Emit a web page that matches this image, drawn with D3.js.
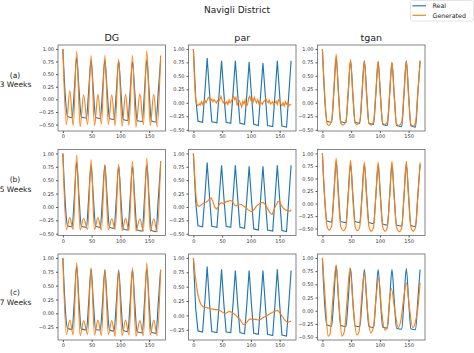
<!DOCTYPE html>
<html>
<head>
<meta charset="utf-8">
<script src="https://cdn.jsdelivr.net/npm/d3@7"></script>
<style>
  body { margin: 0; background: #fff; }
  svg { font-family: "DejaVu Sans", sans-serif; }
  .tick text { fill: #333; }
  .tick line { stroke: #555; }
</style>
</head>
<body>
<div id="chart"></div>
<script>
// ---- data ----
const title = 'Navigli District';
const methods = ['DG', 'par', 'tgan'];
const rowTags = ['(a)', '(b)', '(c)'];
const rowWindows = ['3 Weeks', '5 Weeks', '7 Weeks'];
const seriesNames = ['Real', 'Generated'];
const xTicks = [0, 50, 100, 150];
const xMax = 170;

// real series, one per window length (shared by the three methods)
const real3 = [[0,1.0],[4,0.1],[8,-0.34],[16,-0.36],[20,0.2],[24,0.83],
  [28,0.2],[32,-0.35],[41,-0.37],[45,0.2],[49,0.78],
  [53,0.18],[57,-0.36],[65,-0.38],[69,0.18],[73,0.78],
  [77,0.17],[81,-0.38],[89,-0.40],[93,0.16],[97,0.76],
  [101,0.15],[105,-0.40],[113,-0.42],[117,0.15],[121,0.74],
  [125,0.15],[129,-0.42],[138,-0.44],[142,0.16],[146,0.78],
  [150,0.16],[154,-0.43],[162,-0.45],[166,0.16],[170,0.78]];
const real5 = [[0,1.0],[4,0.1],[8,-0.35],[16,-0.37],[20,0.2],[24,0.83],
  [28,0.2],[32,-0.36],[41,-0.38],[45,0.2],[49,0.78],
  [53,0.18],[57,-0.36],[65,-0.38],[69,0.18],[73,0.78],
  [77,0.17],[81,-0.38],[89,-0.40],[93,0.16],[97,0.76],
  [101,0.15],[105,-0.41],[113,-0.43],[117,0.15],[121,0.76],
  [125,0.15],[129,-0.43],[138,-0.45],[142,0.16],[146,0.78],
  [150,0.16],[154,-0.44],[162,-0.46],[166,0.16],[170,0.78]];
const real7 = [[0,1.0],[4,0.12],[8,-0.27],[16,-0.29],[20,0.25],[24,0.85],
  [28,0.22],[32,-0.28],[41,-0.30],[45,0.22],[49,0.80],
  [53,0.2],[57,-0.29],[65,-0.30],[69,0.2],[73,0.78],
  [77,0.2],[81,-0.30],[89,-0.32],[93,0.2],[97,0.78],
  [101,0.2],[105,-0.31],[113,-0.33],[117,0.2],[121,0.78],
  [125,0.2],[129,-0.33],[138,-0.35],[142,0.2],[146,0.80],
  [150,0.2],[154,-0.34],[162,-0.36],[166,0.2],[170,0.78]];

// generated series
const genDG3 = [[0,1.0],[6,-0.50],[12,0.17],[18,-0.52],[24,0.95],
  [30,-0.54],[36,0.09],[43,-0.50],[49,0.87],
  [55,-0.52],[61,0.10],[67,-0.49],[73,0.87],
  [79,-0.50],[85,0.09],[91,-0.52],[97,0.80],
  [103,-0.53],[109,0.10],[115,-0.51],[121,0.87],
  [127,-0.55],[134,0.11],[140,-0.50],[146,0.96],
  [152,-0.52],[158,0.10],[164,-0.54],[170,0.87]];
const genPar3 = [[0,1.0],[2,0.4],[4,0.05],[6,-0.03],[8,-0.05],[10,-0.02],[12,-0.04],[14,0.02],
  [16,-0.03],[18,0.03],[20,0.05],[22,0.0],[24,0.05],[26,0.1],[28,0.08],[30,0.04],[32,0.07],
  [34,0.02],[36,0.06],[38,0.03],[40,0.0],[42,0.04],[44,0.02],[46,0.06],[48,0.12],[50,0.05],
  [52,0.0],[54,0.03],[56,-0.02],[58,0.02],[60,-0.03],[62,0.05],[64,0.0],[66,0.03],[68,0.08],
  [70,0.12],[72,0.06],[74,0.1],[76,-0.05],[78,0.02],[80,0.04],[82,-0.02],[84,-0.08],[86,0.03],
  [88,-0.02],[90,0.05],[92,-0.05],[94,-0.04],[96,0.08],[98,0.12],[100,0.05],[102,0.08],
  [104,0.02],[106,0.1],[108,0.04],[110,0.0],[112,0.06],[114,-0.02],[116,0.03],[118,0.0],
  [120,-0.03],[122,0.02],[124,0.04],[126,0.08],[128,0.03],[130,0.0],[132,0.05],[134,-0.02],
  [136,0.0],[138,0.02],[140,-0.04],[142,0.0],[144,0.03],[146,-0.03],[148,0.06],[150,0.04],
  [152,-0.02],[154,-0.05],[156,0.0],[158,-0.06],[160,0.02],[162,-0.03],[164,0.0],[166,-0.06],
  [168,-0.03],[170,-0.04]];
const genTgan3 = [[0,1.0],[4,0.15],[8,-0.38],[11,-0.42],[16,-0.33],[20,0.25],[24,0.90],
  [28,0.15],[32,-0.38],[36,-0.41],[41,-0.33],[45,0.22],[49,0.80],
  [53,0.12],[57,-0.38],[61,-0.40],[65,-0.34],[69,0.2],[73,0.78],
  [77,0.12],[81,-0.38],[85,-0.41],[89,-0.34],[93,0.2],[97,0.77],
  [101,0.1],[105,-0.38],[109,-0.40],[113,-0.35],[117,0.18],[121,0.75],
  [125,0.1],[129,-0.39],[133,-0.42],[138,-0.36],[142,0.2],[146,0.77],
  [150,0.1],[154,-0.40],[158,-0.43],[162,-0.37],[166,0.2],[170,0.77]];

const genDG5 = [[0,1.0],[6,-0.42],[12,-0.2],[18,-0.42],[24,0.97],
  [30,-0.43],[36,-0.21],[43,-0.42],[49,0.88],
  [55,-0.42],[61,-0.2],[67,-0.43],[73,0.78],
  [79,-0.43],[85,-0.22],[91,-0.42],[97,0.80],
  [103,-0.44],[109,-0.21],[115,-0.44],[121,0.85],
  [127,-0.45],[134,-0.22],[140,-0.45],[146,0.91],
  [152,-0.45],[158,-0.22],[164,-0.46],[170,0.86]];
const genPar5 = [[0,1.0],[3,0.45],[5,0.15],[7,0.03],[10,0.01],[13,0.03],[16,0.06],[20,0.08],
  [24,0.1],[28,0.15],[31,0.17],[34,0.1],[37,0.0],[40,-0.04],[43,0.0],[46,0.06],[49,0.08],
  [53,0.06],[57,0.1],[61,0.11],[65,0.12],[68,0.1],[72,0.03],[75,0.02],[79,0.05],[83,0.05],
  [87,0.02],[91,-0.01],[95,-0.05],[99,-0.08],[102,-0.09],[106,-0.04],[110,0.02],[114,0.05],
  [118,0.08],[122,0.08],[126,0.03],[130,-0.05],[134,-0.12],[137,-0.14],[140,-0.06],[143,0.02],
  [147,0.1],[150,0.1],[153,0.03],[157,-0.03],[161,-0.06],[165,-0.07],[168,-0.08],[170,-0.05]];
const genTgan5 = [[0,1.0],[4,0.1],[8,-0.45],[12,-0.53],[16,-0.45],[20,0.15],[24,0.90],
  [28,0.1],[32,-0.46],[37,-0.54],[41,-0.46],[45,0.15],[49,0.86],
  [53,0.1],[57,-0.46],[61,-0.54],[65,-0.46],[69,0.14],[73,0.82],
  [77,0.1],[81,-0.46],[85,-0.55],[89,-0.47],[93,0.14],[97,0.82],
  [101,0.1],[105,-0.47],[109,-0.55],[113,-0.47],[117,0.14],[121,0.84],
  [125,0.1],[129,-0.47],[134,-0.56],[138,-0.48],[142,0.14],[146,0.84],
  [150,0.1],[154,-0.47],[158,-0.55],[162,-0.47],[166,0.14],[170,0.82]];

const genDG7 = [[0,1.0],[6,-0.38],[12,-0.12],[18,-0.39],[24,0.91],
  [30,-0.40],[36,-0.13],[43,-0.38],[49,0.82],
  [55,-0.39],[61,-0.12],[67,-0.40],[73,0.79],
  [79,-0.38],[85,-0.13],[91,-0.41],[97,0.76],
  [103,-0.40],[109,-0.12],[115,-0.39],[121,0.82],
  [127,-0.41],[134,-0.13],[140,-0.40],[146,0.91],
  [152,-0.39],[158,-0.12],[164,-0.40],[170,0.79]];
const genPar7 = [[0,1.0],[3,0.7],[5,0.55],[8,0.35],[11,0.24],[14,0.18],[17,0.15],[21,0.14],
  [25,0.13],[29,0.12],[33,0.11],[37,0.10],[41,0.1],[46,0.09],[50,0.06],[55,0.03],[60,0.06],
  [64,0.07],[68,0.04],[72,0.02],[76,-0.02],[81,-0.07],[84,-0.12],[87,-0.16],[90,-0.15],
  [93,-0.12],[96,-0.08],[99,-0.06],[103,-0.07],[108,-0.07],[113,-0.08],[117,-0.07],
  [121,-0.04],[125,-0.02],[129,0.0],[133,0.03],[137,0.05],[141,0.07],[146,0.09],[149,0.06],
  [152,0.02],[155,-0.02],[158,-0.07],[161,-0.1],[164,-0.12],[167,-0.11],[170,-0.10]];
const genTgan7 = [[0,1.0],[5,0.2],[10,-0.48],[13,-0.45],[18,0.2],[24,0.87],
  [29,0.1],[34,-0.48],[38,-0.4],[43,0.2],[48,0.81],
  [54,0.0],[60,-0.46],[64,-0.38],[68,0.2],[73,0.72],
  [79,-0.05],[84,-0.42],[89,-0.3],[93,0.2],[98,0.62],
  [103,0.0],[109,-0.37],[113,-0.3],[116,0.1],[120,0.42],
  [126,0.0],[132,-0.32],[137,-0.15],[141,0.2],[146,0.53],
  [151,0.1],[157,-0.32],[162,-0.2],[166,0.05],[170,0.53]];

const realRows = [real3, real5, real7];
const genRows = [
  [genDG3, genPar3, genTgan3],
  [genDG5, genPar5, genTgan5],
  [genDG7, genPar7, genTgan7]
];

// ---- layout ----
const W = 474, H = 353;
const colLeft = [58, 188.5, 317.5];
const rowTop = [45, 149.5, 254];
const plotW = 107.5, plotH = 86;
const tagY = [75, 179.5, 292.5];
const colors = { Real: '#1f77b4', Generated: '#ff7f0e' };

const svg = d3.select('#chart').append('svg')
  .attr('width', W).attr('height', H);

svg.append('text')
  .attr('x', 237).attr('y', 13)
  .attr('text-anchor', 'middle')
  .attr('font-size', 9).attr('fill', '#222')
  .text(title);

const x = d3.scaleLinear()
  .domain([-0.05 * xMax, 1.05 * xMax])
  .range([0, plotW]);

const fmt = d3.format('.2f');

rowTop.forEach((top, r) => {
  // row labels
  const lab = svg.append('g').attr('font-size', 7.5).attr('fill', '#222').attr('text-anchor', 'middle');
  lab.append('text').attr('x', 15).attr('y', tagY[r]).attr('dy', '0.35em').text(rowTags[r]);
  lab.append('text').attr('x', 15.5).attr('y', tagY[r] + 9.5).attr('dy', '0.35em').text(rowWindows[r]);

  methods.forEach((m, c) => {
    const real = realRows[r];
    const gen = genRows[r][c];
    const vals = real.concat(gen).map(d => d[1]);
    const [lo, hi] = d3.extent(vals);
    const pad = (hi - lo) * 0.05;
    const y = d3.scaleLinear().domain([lo - pad, hi + pad]).range([plotH, 0]);
    const yTicks = d3.range(Math.ceil((lo - pad) / 0.25) * 0.25, hi + pad + 1e-9, 0.25);

    const g = svg.append('g')
      .attr('transform', `translate(${colLeft[c]},${top})`);

    if (r === 0) {
      g.append('text')
        .attr('x', plotW / 2).attr('y', -4)
        .attr('text-anchor', 'middle')
        .attr('font-size', 9.5).attr('fill', '#222')
        .text(m);
    }

    const line = d3.line()
      .x(d => x(d[0]))
      .y(d => y(d[1]))
      .curve(m === 'par' ? d3.curveLinear : d3.curveMonotoneX);

    const clipId = `clip-${r}-${c}`;
    g.append('clipPath').attr('id', clipId)
      .append('rect').attr('width', plotW).attr('height', plotH);

    g.append('g').attr('clip-path', `url(#${clipId})`)
      .selectAll('path')
      .data([['Real', real], ['Generated', gen]])
      .join('path')
      .attr('d', d => line(d[1]))
      .attr('fill', 'none')
      .attr('stroke', d => colors[d[0]])
      .attr('stroke-width', 1.15);

    g.append('rect')
      .attr('width', plotW).attr('height', plotH)
      .attr('fill', 'none').attr('stroke', '#666').attr('stroke-width', 0.8);

    g.append('g')
      .call(d3.axisLeft(y).tickValues(yTicks).tickFormat(fmt).tickSize(2).tickPadding(2))
      .call(a => a.select('.domain').remove())
      .attr('font-size', 5).attr('font-family', null);

    g.append('g')
      .attr('transform', `translate(0,${plotH})`)
      .call(d3.axisBottom(x).tickValues(xTicks).tickSize(2).tickPadding(1.5))
      .call(a => a.select('.domain').remove())
      .attr('font-size', 5).attr('font-family', null);
  });
});

// legend
const leg = svg.append('g').attr('transform', 'translate(410.5,0.5)');
leg.append('rect')
  .attr('width', 63).attr('height', 20.5).attr('rx', 2)
  .attr('fill', '#fff').attr('stroke', '#ddd').attr('stroke-width', 0.8);
seriesNames.forEach((s, i) => {
  const yy = 5.3 + i * 9.5;
  leg.append('line')
    .attr('x1', 2).attr('x2', 15.5).attr('y1', yy).attr('y2', yy)
    .attr('stroke', colors[s]).attr('stroke-width', 1.15);
  leg.append('text')
    .attr('x', 22).attr('y', yy).attr('dy', '0.35em')
    .attr('font-size', 6.3).attr('fill', '#222')
    .text(s);
});
</script>
</body>
</html>
